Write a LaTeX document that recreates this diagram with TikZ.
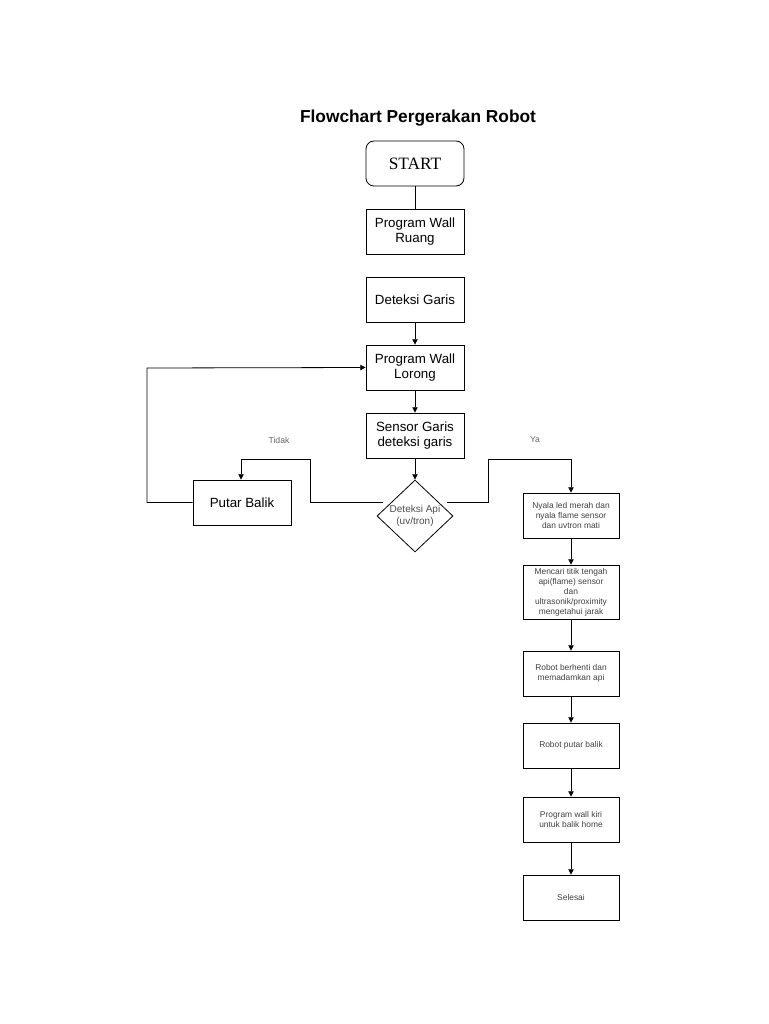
\documentclass[tikz,border=0pt]{standalone}
\usepackage{fontspec}
\setmainfont{Liberation Sans}
\newfontfamily\serifname{Liberation Serif}
\usetikzlibrary{shapes.geometric,arrows.meta}
\begin{document}
\begin{tikzpicture}[x=0.75pt,y=-0.75pt,
  box/.style={draw,line width=0.6pt,minimum width=73.5pt,minimum height=33.75pt,align=center,inner sep=1pt,font=\fontsize{10}{11.5}\selectfont},
  sbox/.style={draw,line width=0.6pt,minimum width=72pt,align=center,inner sep=1pt,text=black!75,font=\fontsize{6.3}{7.5}\selectfont},
  arr/.style={-{Triangle[length=4pt,width=4pt]},line width=0.6pt},
  ln/.style={line width=0.6pt},
  lab/.style={text=black!60,font=\fontsize{6.5}{8}\selectfont}]
\useasboundingbox (0,0) rectangle (768,1024);
\node[font=\bfseries\fontsize{13}{15}\selectfont] (title) at (418,118) {Flowchart Pergerakan Robot};
\node[box,rounded corners=6pt,font=\serifname\fontsize{13}{15}\selectfont] (start) at (415,163.5) {START};
\node[box] (ruang) at (415,231.5) {Program Wall\\Ruang};
\node[box] (garis) at (415,299.5) {Deteksi Garis};
\node[box] (lorong) at (415,367.5) {Program Wall\\Lorong};
\node[box] (sensor) at (415,435.5) {Sensor Garis\\deteksi garis};
\node[diamond,draw,line width=0.6pt,minimum width=57pt,minimum height=54pt,inner sep=0pt,align=center,text=black!70,font=\fontsize{7.5}{9}\selectfont] (api) at (415,516) {Deteksi Api\\(uv/tron)};
\node[box] (putar) at (242,502.5) {Putar Balik};
\node[sbox,minimum height=33.75pt] (r1) at (571,515.5) {Nyala led merah dan\\nyala flame sensor\\dan uvtron mati};
\node[sbox,minimum height=40.5pt] (r2) at (571,592) {Mencari titik tengah\\api(flame) sensor\\dan\\ultrasonik/proximity\\mengetahui jarak};
\node[sbox,minimum height=33.75pt] (r3) at (571,673.5) {Robot berhenti dan\\memadamkan api};
\node[sbox,minimum height=33.75pt] (r4) at (571,745.5) {Robot putar balik};
\node[sbox,minimum height=33.75pt] (r5) at (571,819.5) {Program wall kiri\\untuk balik home};
\node[sbox,minimum height=33.75pt] (r6) at (571,897.5) {Selesai};
\node[lab] (tidak) at (279,440) {Tidak};
\node[lab] (ya) at (535,440) {Ya};
\draw[ln] (start) -- (ruang);
\draw[arr] (garis) -- (lorong);
\draw[arr] (lorong) -- (sensor);
\draw[arr] (sensor) -- (api);
\coordinate (al) at (383,502);
\coordinate (ar) at (447,502);
\draw[arr] (al) -- (310,502) -- (310,459) -- (241,459) -- (putar.north -| 241,0);
\draw[arr] (putar.west) -- (147,502.5) -- (147,368) -- (lorong.west);
\draw[arr] (ar) -- (488,502) -- (488,459) -- (571,459) -- (r1.north);
\draw[arr] (r1) -- (r2);
\draw[arr] (r2) -- (r3);
\draw[arr] (r3) -- (r4);
\draw[arr] (r4) -- (r5);
\draw[arr] (r5) -- (r6);
\end{tikzpicture}
\end{document}
